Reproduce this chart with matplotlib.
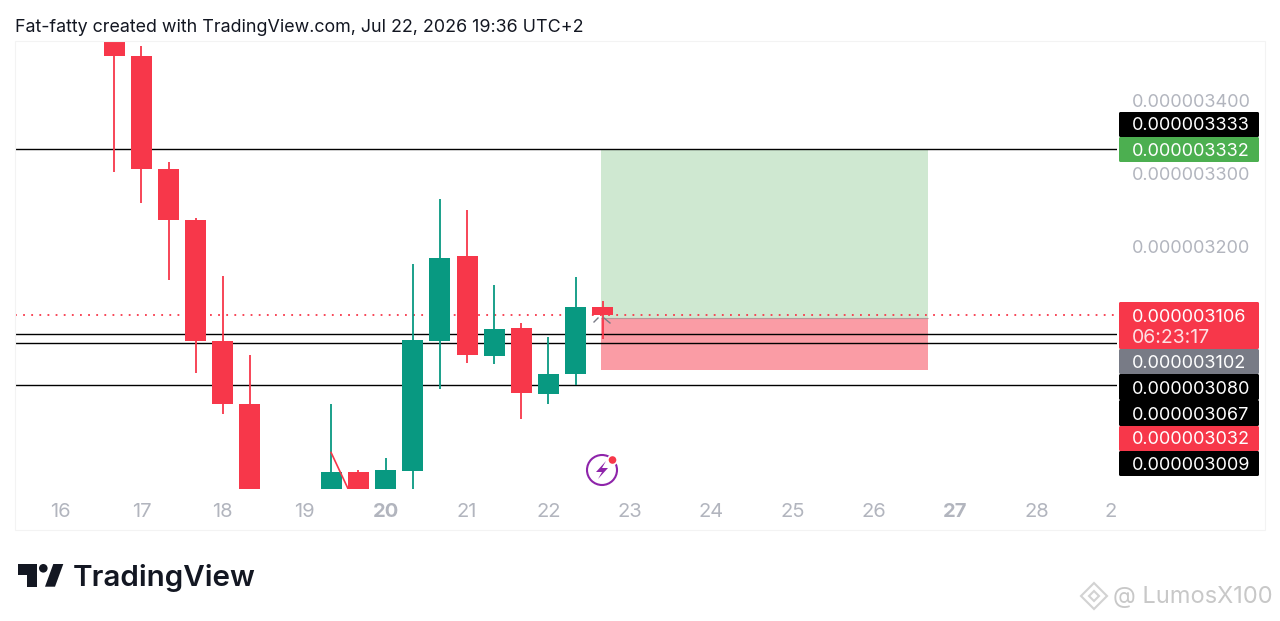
import matplotlib
matplotlib.use('Agg')
import matplotlib.pyplot as plt
from matplotlib.patches import Rectangle, Polygon, Circle, FancyBboxPatch

plt.rcParams['font.family'] = ['Inter', 'DejaVu Sans']

# prices in units of 1e-9, candles are 8h so x = 16 + idx / 3
candle_idx = [2, 3, 4, 5, 6, 7, 10, 11, 12, 13, 14, 15, 16, 17, 18, 19, 20]
opens = [3490, 3460, 3306, 3235, 3070, 2983, 2860, 2890, 2860, 2892, 3070, 3186, 3049, 3087, 2997, 3024, 3117]
closes = [3460, 3306, 3236, 3070, 2983, 2860, 2890, 2860, 2893, 3071, 3184, 3050, 3086, 2998, 3024, 3117, 3105]
highs = [3500, 3474, 3315, 3239, 3159, 3050, 2984, 2893, 2910, 3175, 3264, 3249, 3147, 3095, 3076, 3158, 3125]
lows = [3301, 3259, 3153, 3026, 2970, 2860, 2860, 2860, 2860, 2860, 3004, 3040, 3038, 2963, 2984, 3009, 3073]

h_lines = [3333, 3080, 3067, 3009]
last_price = 3106
stray_x = [19.33, 19.54]
stray_y = [2917, 2867]

box_x = [22.645, 26.66]
box_tp = 3332
box_entry = 3102
box_sl = 3030

y_ticks = [3200, 3300, 3400]
y_tick_labels = ['0.000003200', '0.000003300', '0.000003400']
x_ticks = [16, 17, 18, 19, 20, 21, 22, 23, 24, 25, 26, 27, 28, 28.91]
x_tick_labels = ['16', '17', '18', '19', '20', '21', '22', '23', '24', '25', '26', '27', '28', '2']
bold_days = ['20', '27']

# text, centre y in pixels, box top, box bottom, box colour
price_labels = [
    ('0.000003333', 124.5, 112, 137, '#000000'),
    ('0.000003332', 150, 137, 162, '#4caf50'),
    ('0.000003106', 316, 302, 349, '#f7374a'),
    ('0.000003102', 362, 349, 374, '#787b86'),
    ('0.000003080', 388, 374, 400, '#000000'),
    ('0.000003067', 413.5, 400, 426, '#000000'),
    ('0.000003032', 438.5, 426, 451, '#f7374a'),
    ('0.000003009', 464, 451, 476, '#000000'),
]
countdown = '06:23:17'

RED = '#f7374a'
GREEN = '#089981'
GREY = '#b2b5be'
W, H = 1280, 621

fig = plt.figure(figsize=(W / 100, H / 100), dpi=100)
ax = fig.add_axes([15 / W, 1 - 489 / H, (1117 - 15) / W, (489 - 41) / H])
ax.set_xlim(15.447, 28.985)
ax.set_ylim(2867, 3481)
for s in ax.spines.values():
    s.set_visible(False)

# position tool
ax.add_patch(Rectangle((box_x[0], box_entry), box_x[1] - box_x[0], box_tp - box_entry,
                       color='#cfe8d1', lw=0, zorder=1))
ax.add_patch(Rectangle((box_x[0], box_sl), box_x[1] - box_x[0], box_entry - box_sl,
                       color='#fa9ca5', lw=0, zorder=1))
ax.hlines(box_entry, box_x[0], box_x[1], color='#b59a9a', lw=0.8, zorder=1.5)

for p in h_lines:
    ax.axhline(p, color='black', lw=1.0, zorder=2)
ax.axhline(last_price, color=RED, lw=1.3, ls=(0, (1, 3.5)), zorder=2)

# candles
for i, o, c, hi, lo in zip(candle_idx, opens, closes, highs, lows):
    x = 16 + i / 3
    col = GREEN if c > o else RED
    ax.vlines(x, lo, hi, color=col, lw=1.3, zorder=3)
    ax.bar(x, abs(c - o), bottom=min(o, c), width=0.258, color=col, lw=0, zorder=3)
ax.plot(stray_x, stray_y, color=RED, lw=1.2, zorder=3)

ax.set_xticks(x_ticks)
ax.set_xticklabels(x_tick_labels, fontsize=14.5, color=GREY)
for lab in ax.get_xticklabels():
    if lab.get_text() in bold_days:
        lab.set_fontweight('bold')
ax.tick_params(axis='x', length=0, pad=10)
ax.yaxis.tick_right()
ax.set_yticks(y_ticks)
ax.set_yticklabels(y_tick_labels, fontsize=13, color=GREY)
ax.tick_params(axis='y', length=0, pad=11)

# overlay in pixel coordinates for everything outside the price pane
ov = fig.add_axes([0, 0, 1, 1], facecolor='none')
ov.set_xlim(0, W)
ov.set_ylim(H, 0)
ov.axis('off')

ov.add_patch(Rectangle((15, 41), 1250, 489, fill=False, ec='#f3f3f3', lw=0.8))
ov.text(15, 28, 'Fat-fatty created with TradingView.com, Jul 22, 2026 19:36 UTC+2',
        fontsize=12.87, color='#131722', va='center', ha='left')

for txt, yc, top, bot, col in price_labels:
    ov.add_patch(FancyBboxPatch((1119, top), 140, bot - top, boxstyle='round,pad=0,rounding_size=1.5',
                                fc=col, ec='none'))
    ov.text(1132, yc + 1.5, txt, fontsize=13, color='white', va='center', ha='left')
ov.text(1132, 338, countdown, fontsize=14, color='#fde0e3', va='center', ha='left')

# cursor marks next to the last candle
ov.plot([594, 598], [322, 318], color='#787b86', lw=1)
ov.plot([604, 610], [318, 323], color='#787b86', lw=1)

# lightning icon
ov.add_patch(Circle((602, 470), 15, fill=False, ec='#8e24aa', lw=1.5))
ov.add_patch(Polygon([(606, 461), (596, 472), (602, 472), (598, 479), (608, 468), (602, 468)],
                     closed=True, fc='#8e24aa', ec='none'))
ov.add_patch(Circle((612.5, 460), 5.5, fc='white', ec='none'))
ov.add_patch(Circle((612.5, 460), 3.8, fc=RED, ec='none'))

# TradingView logo
ov.add_patch(Polygon([(18.3, 564), (36.7, 564), (36.7, 586.7), (26.7, 586.7), (26.7, 575), (18.3, 575)],
                     closed=True, fc='#131722', ec='none'))
ov.add_patch(Circle((43.3, 568.3), 4.3, fc='#131722', ec='none'))
ov.add_patch(Polygon([(53.3, 564), (63.3, 564), (55, 586.7), (45, 586.7)], closed=True, fc='#131722', ec='none'))
ov.text(73, 585.5, 'TradingView', fontsize=21.3, fontweight='semibold', color='#131722', va='baseline', ha='left')

# watermark
ov.add_patch(Polygon([(1094, 583), (1107, 596), (1094, 609), (1081, 596)], closed=True, fill=False,
                     ec='#d2d2d2', lw=1.5))
ov.add_patch(Polygon([(1094, 591), (1099, 596), (1094, 601), (1089, 596)], closed=True, fill=False,
                     ec='#d2d2d2', lw=1.5))
ov.text(1113, 597, '@ LumosX100', fontsize=17, color='#c8c8c8', va='center', ha='left')

fig.savefig('out.png', dpi=100, facecolor='white')
